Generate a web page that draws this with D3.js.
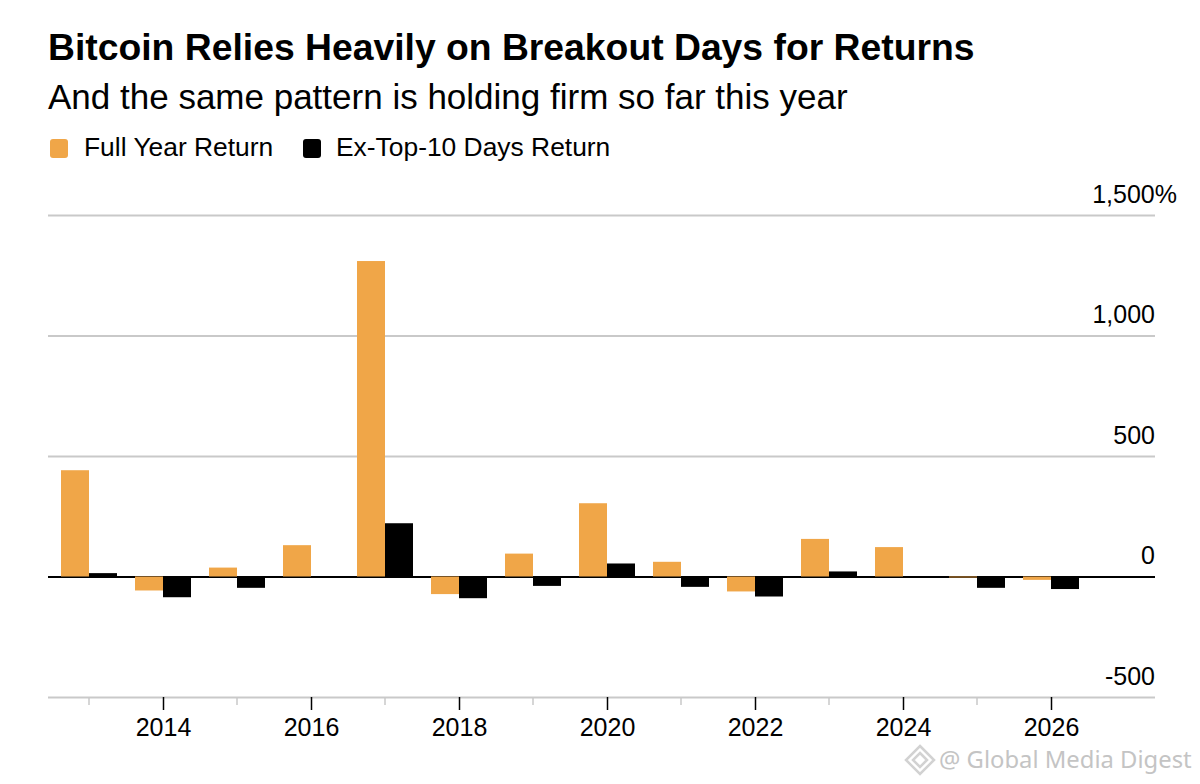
<!DOCTYPE html>
<html>
<head>
<meta charset="utf-8">
<script src="https://d3js.org/d3.v7.min.js"></script>
<style>
  html, body { margin: 0; background: #fff; }
  svg { display: block; }
  text { font-family: "Liberation Sans", Arial, sans-serif; fill: #000; }
</style>
</head>
<body>
<svg width="1200" height="784"></svg>
<script>
const years = d3.range(2013, 2027);
const fullYear = [441, -58, 37, 130, 1309, -73, 95, 304, 61, -62, 156, 122, -4, -14];
const exTop10 = [14, -86, -47, 1, 221, -90, -39, 54, -43, -83, 21, -3, -47, -52];
const seriesNames = ['Full Year Return', 'Ex-Top-10 Days Return'];
const seriesColors = ['#f0a648', '#000000'];
const yTicks = [-500, 0, 500, 1000, 1500];
const majorYears = years.filter((d) => d % 2 === 0);
const minorYears = years.filter((d) => d % 2 === 1);

const svg = d3.select('svg');
const left = 48;
const right = 1155;

const xScale = d3.scaleLinear().domain([2013, 2026]).range([89, 1051]);
const yScale = d3.scaleLinear().domain([-500, 1500]).range([697, 215]);
const sideScale = d3.scaleBand().domain([0, 1]).range([-28, 28]);

svg.append('text').attr('x', 48).attr('y', 60)
  .style('font-size', '37.3px').style('font-weight', 700)
  .text('Bitcoin Relies Heavily on Breakout Days for Returns');
svg.append('text').attr('x', 48).attr('y', 109)
  .style('font-size', '35px')
  .text('And the same pattern is holding firm so far this year');

const legendX = [50, 303];
const legendLabelX = [84, 336];
seriesNames.forEach((name, i) => {
  svg.append('rect').attr('x', legendX[i]).attr('y', 139)
    .attr('width', 18).attr('height', 19).attr('rx', 3)
    .attr('fill', seriesColors[i]);
  svg.append('text').attr('x', legendLabelX[i]).attr('y', 156)
    .style('font-size', '26.4px').text(name);
});

// gridlines and y labels
const yAxis = svg.append('g')
  .attr('transform', `translate(${right},0)`)
  .call(d3.axisRight(yScale)
    .tickValues(yTicks)
    .tickSize(-(right - left))
    .tickFormat((d) => d === 1500 ? '1,500%' : d === -500 ? '-500' : d3.format(',')(d)));
yAxis.select('.domain').remove();
yAxis.selectAll('.tick line')
  .attr('stroke', (d) => d === 0 ? '#000' : '#c9c9c9')
  .attr('stroke-width', 2);
yAxis.selectAll('.tick text')
  .attr('x', (d) => d === 1500 ? 22 : 0)
  .attr('y', -13)
  .attr('dy', 0)
  .attr('text-anchor', 'end')
  .style('font-size', '25px');

// bars
[fullYear, exTop10].forEach((values, s) => {
  svg.append('g').selectAll('rect')
    .data(values)
    .join('rect')
    .attr('x', (d, i) => xScale(years[i]) + sideScale(s))
    .attr('y', (d) => yScale(Math.max(d, 0)))
    .attr('width', sideScale.bandwidth())
    .attr('height', (d) => Math.abs(yScale(d) - yScale(0)))
    .attr('fill', seriesColors[s]);
});

// x axis
const axisG = svg.append('g').attr('transform', `translate(0,${yScale(-500)})`);
axisG.call(d3.axisBottom(xScale)
  .tickValues(majorYears)
  .tickSize(13)
  .tickFormat(d3.format('d')));
axisG.select('.domain').remove();
axisG.selectAll('.tick line').attr('stroke', '#000').attr('stroke-width', 1.5);
axisG.selectAll('.tick text')
  .attr('y', 21).attr('dy', '0.71em')
  .style('font-size', '25px');
axisG.selectAll('.minor')
  .data(minorYears)
  .join('line')
  .attr('class', 'minor')
  .attr('x1', (d) => xScale(d)).attr('x2', (d) => xScale(d))
  .attr('y1', 0).attr('y2', 8)
  .attr('stroke', '#c9c9c9').attr('stroke-width', 1.5);

// watermark
svg.append('path')
  .attr('d', 'M920 746l14 14-14 14-14-14z M920 753l7 7-7 7-7-7z')
  .attr('fill', 'none').attr('stroke', '#d2d2d2').attr('stroke-width', 2.5);
svg.append('text').attr('x', 939).attr('y', 768)
  .style('font-family', '"Noto Sans", sans-serif')
  .style('font-size', '23.8px').style('fill', '#c4c4c4')
  .text('@ Global Media Digest');
</script>
</body>
</html>
